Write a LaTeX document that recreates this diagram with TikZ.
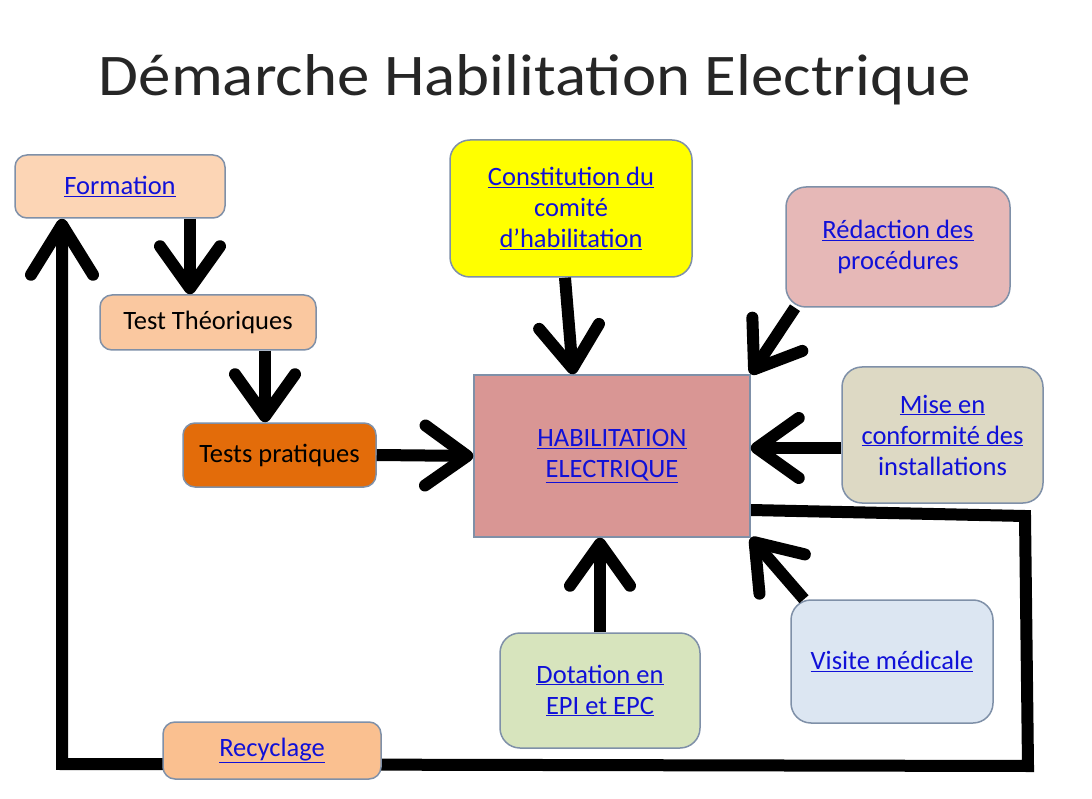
\documentclass[tikz,border=0pt]{standalone}
\usepackage{fontspec}
\setmainfont{Carlito}
\newfontfamily\titlefont[FakeStretch=1.1]{Carlito}
\usetikzlibrary{arrows.meta,backgrounds,calc}
\definecolor{bordc}{HTML}{7F90A8}
\definecolor{linkc}{HTML}{1010D8}
\definecolor{formc}{HTML}{FCD5B5}
\definecolor{ttc}{HTML}{FAC8A0}
\definecolor{tpc}{HTML}{E36C0A}
\definecolor{consc}{HTML}{FFFF00}
\definecolor{redc}{HTML}{E6B8B7}
\definecolor{habc}{HTML}{D99694}
\definecolor{misec}{HTML}{DDD9C4}
\definecolor{visc}{HTML}{DCE6F2}
\definecolor{dotc}{HTML}{D7E4BD}
\definecolor{recc}{HTML}{FAC090}
\newcommand\lk[1]{\textcolor{linkc}{\underline{#1}}}
\newcommand\lkn[1]{\textcolor{linkc}{#1}}
\begin{document}
\begin{tikzpicture}[x=1pt,y=-1pt,
  box/.style={draw=bordc, line width=1.5pt, rounded corners=12pt, align=center,
    font=\fontsize{26.5}{31}\selectfont, inner sep=0pt},
  arr/.style={line width=12pt, -{Straight Barb[length=42pt,width=60pt,round]}},
  loopline/.style={line width=12pt, line join=miter,
    -{Straight Barb[length=50pt,width=62pt,round]}}]
\useasboundingbox (0,0) rectangle (1092,799);

\node[font=\titlefont\fontsize{59}{62}\selectfont, text=black!85] (title) at (535,80) {Démarche Habilitation Electrique};

\node[box, fill=formc, minimum width=210pt, minimum height=63pt] (form) at (120,186.5) {\lk{Formation}};
\node[box, fill=ttc, minimum width=216pt, minimum height=55pt] (tt) at (208,322.5) {Test Théoriques};
\node[box, fill=tpc, minimum width=193pt, minimum height=64pt] (tp) at (279.5,455) {Tests pratiques};
\node[box, fill=consc, rounded corners=20pt, minimum width=242pt, minimum height=137pt] (cons) at (571,208.5)
  {\lk{Constitution du}\\ \lkn{comité}\\ \lk{d’habilitation}};
\node[box, fill=redc, rounded corners=20pt, minimum width=224pt, minimum height=120pt] (red) at (898,247)
  {\lk{Rédaction des}\\ \lkn{procédures}};
\node[box, fill=habc, rounded corners=0pt, minimum width=276pt, minimum height=162pt] (hab) at (612,456)
  {\lk{HABILITATION}\\ \lk{ELECTRIQUE}};
\node[box, fill=misec, rounded corners=20pt, minimum width=201pt, minimum height=136pt] (mise) at (942.5,435)
  {\lk{Mise en}\\ \lk{conformité des}\\ \lkn{installations}};
\node[box, fill=visc, rounded corners=20pt, minimum width=202pt, minimum height=123pt] (vis) at (892,661.5)
  {\lk{Visite médicale}};
\node[box, fill=dotc, rounded corners=20pt, minimum width=200pt, minimum height=115pt] (dot) at (600,690.5)
  {\lk{Dotation en}\\ \lk{EPI et EPC}};
\node[box, fill=recc, minimum width=218pt, minimum height=57pt] (rec) at (272,750.5) {\lk{Recyclage}};

\draw[arr] ([xshift=70pt]form.south) -- ([xshift=-18pt]tt.north);
\draw[arr] ([xshift=57pt]tt.south) -- ([xshift=-14.5pt]tp.north);
\draw[arr] (tp.east) -- (hab.west);
\draw[arr] ([xshift=-6pt]cons.south) -- ([xshift=-39pt]hab.north);
\draw[arr] ([xshift=-103pt]red.south) -- (hab.north east);
\draw[arr] ([yshift=-13pt]mise.west) -- ([yshift=8pt]hab.east);
\draw[arr] ([xshift=-88pt]vis.north) -- (hab.south east);
\draw[arr] (dot.north) -- ([xshift=-12pt]hab.south);

\coordinate (l1) at (1025,516);
\coordinate (l2) at (1028,766);
\coordinate (l3) at (62,764);
\begin{scope}[on background layer]
\fill[white] (0,0) rectangle (1092,799);
\draw[loopline] ([yshift=-54pt]hab.east) -- (l1) -- (l2) -- (l3) -- (form.south -| l3);
\end{scope}
\end{tikzpicture}
\end{document}
